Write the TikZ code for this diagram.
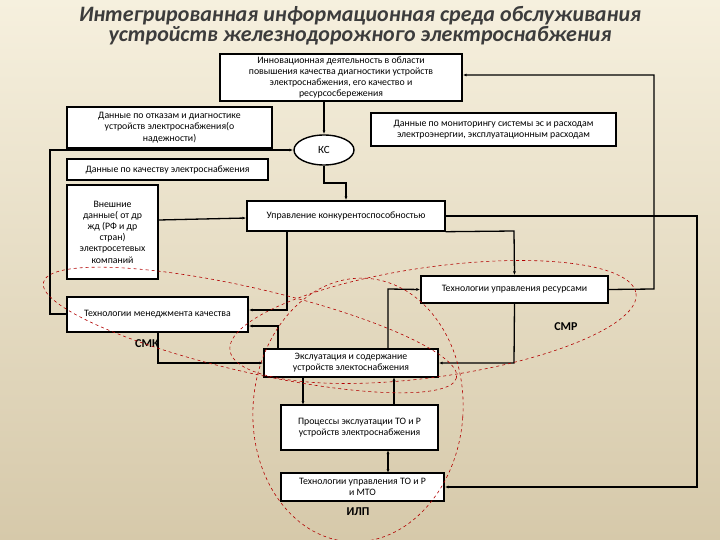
\documentclass[tikz,border=0pt]{standalone}
\usepackage{fontspec}
\setmainfont{Carlito}
\usetikzlibrary{arrows.meta,shapes.geometric}
\begin{document}
\begin{tikzpicture}[x=1pt,y=-1pt,
 bx/.style={draw,line width=1.4pt,fill=white,align=center,font=\fontsize{9.8}{11.2}\selectfont,inner sep=1pt},
 ln/.style={line width=1.3pt,-{Latex[length=4pt,width=3pt]}},
 ov/.style={draw=red!70!black,dashed,line width=0.6pt},
 lb/.style={font=\bfseries\fontsize{12}{13}\selectfont}]
\shade[top color={rgb,255:red,246;green,240;blue,222},bottom color={rgb,255:red,214;green,201;blue,170}] (0,0) rectangle (720,540);
\useasboundingbox (0,0) rectangle (720,540);
\node[font=\bfseries\itshape\fontsize{22}{20}\selectfont,text={rgb,255:red,60;green,60;blue,60},align=center] (title) at (360,26) {Интегрированная информационная среда обслуживания\\устройств железнодорожного электроснабжения};
\node[bx,minimum width=242,minimum height=47] (top) at (341,77.5) {Инновационная деятельность в области\\повышения качества диагностики устройств\\электроснабжения, его качество и\\ресурсосбережения};
\node[bx,minimum width=205,minimum height=41] (fail) at (169.5,127.5) {Данные по отказам и диагностике\\устройств электроснабжения(о\\надежности)};
\node[bx,minimum width=245,minimum height=33] (mon) at (493.5,129.5) {Данные по мониторингу системы эс и расходам\\электроэнергии, эксплуатационным расходам};
\node[draw,ellipse,line width=1.4pt,fill=white,minimum width=60,minimum height=30,font=\fontsize{11}{12}\selectfont] (kc) at (324,150) {КС};
\node[bx,minimum width=201,minimum height=21] (qual) at (167.5,169.5) {Данные по качеству электроснабжения};
\node[bx,minimum width=91,minimum height=94] (ext) at (112.5,232) {Внешние\\данные( от др\\жд (РФ и др\\стран)\\электросетевых\\компаний};
\node[bx,minimum width=198,minimum height=30] (upr) at (346,216) {Управление конкурентоспособностью};
\node[bx,minimum width=187,minimum height=27] (res) at (514.5,289.5) {Технологии управления ресурсами};
\node[bx,minimum width=181,minimum height=35] (smk) at (157.5,314.5) {Технологии менеджмента качества};
\node[bx,minimum width=174,minimum height=28] (exp) at (351,363) {Экслуатация и содержание\\устройств электоснабжения};
\node[bx,minimum width=157,minimum height=45] (proc) at (359.5,427.5) {Процессы экслуатации ТО и Р\\устройств электроснабжения};
\node[bx,minimum width=163,minimum height=28] (to) at (362.5,487) {Технологии управления ТО и Р\\и МТО};
\node[lb] (lsmk) at (147,344) {СМК};
\node[lb] (lsmr) at (566,327) {СМР};
\node[lb] (lilp) at (358,512) {ИЛП};
% connectors
\draw[ln] (top.south -| kc.north) -- (kc.north);
\draw[ln] (smk.west |- 0,314) -- (50,314) -- (50,150) -- (kc.west);
\draw[ln] (kc.south) -- (324,183) -- (346,183) -- (upr.north);
\draw[ln] (ext.east |- 0,220) -- (upr.west |- 0,218);
\draw[ln] (upr.east) -- (697,216) -- (697,487) -- (to.east);
\draw[ln] (287,231) -- (287,310) -- (smk.east |- 0,310);
\draw[ln] (upr.south east) -- (514,231) -- (res.north);
\draw[ln] (res.east) -- (654,289) -- (654,75) -- (top.east |- 0,75);
\draw[ln] (158,332) -- (158,363) -- (exp.west);
\draw[ln] (278,349) -- (278,326) -- (smk.east |- 0,326);
\draw[ln] (res.south) -- (514,363) -- (exp.east);
\draw[ln] (388,349) -- (388,289) -- (res.west);
\draw[ln] (303,377) -- (303,405);
\draw[ln] (394,405) -- (394,377);
\draw[line width=1.3pt,{Latex[length=4pt,width=3pt]}-{Latex[length=4pt,width=3pt]}] (388,450) -- (388,473);
% ovals
\draw[ov,rotate around={-13:(250,330)}] (250,330) ellipse (212 and 42);
\draw[ov,rotate around={8:(433,322)}] (433,322) ellipse (205 and 55);
\draw[ov,rotate around={-4:(358,410)}] (358,410) ellipse (105 and 132);
\end{tikzpicture}
\end{document}
